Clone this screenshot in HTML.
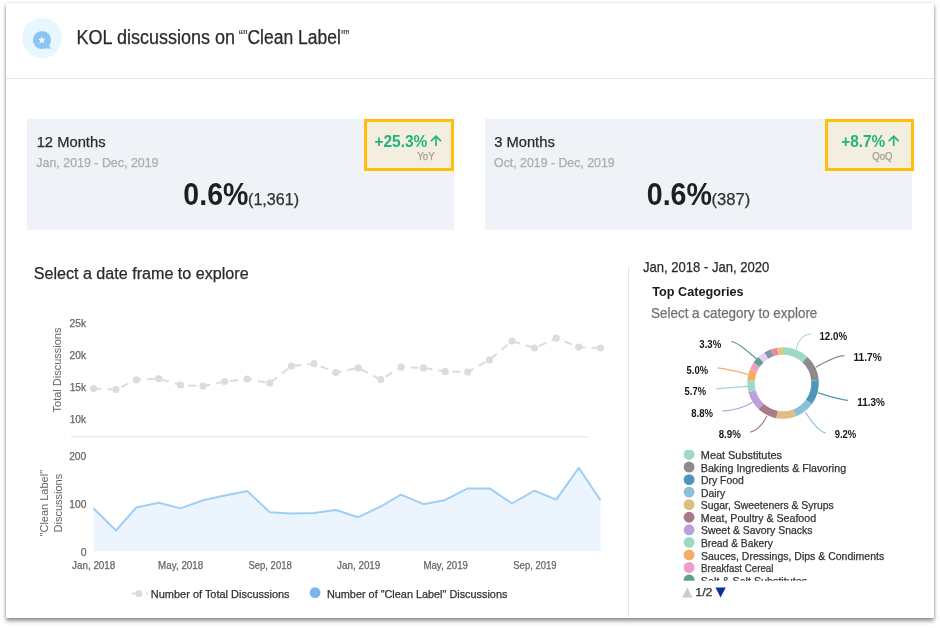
<!DOCTYPE html>
<html><head><meta charset="utf-8"><title>KOL discussions on Clean Label</title><style>
*{margin:0;padding:0;box-sizing:border-box}
html,body{width:940px;height:628px;background:#fff;overflow:hidden}
body{position:relative;font-family:"Liberation Sans",Arial,sans-serif;color:#333}
.card{position:absolute;left:6px;top:3px;width:928px;height:615px;background:#fff;box-shadow:0 3px 4px rgba(0,0,0,.42),0 0 2px rgba(0,0,0,.2)}
.hdrline{position:absolute;left:6px;top:78px;width:928px;height:1px;background:#e6e6e6}
.ico{position:absolute;left:22px;top:18px;width:40px;height:40px;border-radius:50%;background:#e8f7fe}
.kpi{position:absolute;top:119px;height:111px;background:#eff2f6}
.badge{position:absolute;top:119px;height:52px;border:3px solid #ffbf0b;background:#f3eedd}
.vline{position:absolute;left:628px;top:267px;width:1px;height:350px;background:#e3e3e3}
svg{position:absolute;left:0;top:0}
svg text{font-family:"Liberation Sans",Arial,sans-serif}
</style></head><body>
<div class="card"></div>
<div class="hdrline"></div>
<div class="ico"></div>
<div class="kpi" style="left:27px;width:427px"></div>
<div class="kpi" style="left:485px;width:427px"></div>
<div class="badge" style="left:364px;width:90px"></div>
<div class="badge" style="left:825px;width:89px"></div>
<div class="vline"></div>
<svg width="940" height="628" viewBox="0 0 940 628">
  <defs><clipPath id="legclip"><rect x="678" y="449.9" width="240" height="130.8"/></clipPath></defs>
  <!-- header icon -->
  <circle cx="42" cy="40" r="9.1" fill="#8cc5f3"/>
  <path d="M48.3 44 L51.2 48.8 L45.2 48.2 Z" fill="#8cc5f3"/>
  <path d="M0 -3.9 L1.05 -1.35 L3.8 -1.2 L1.65 0.55 L2.35 3.25 L0 1.75 L-2.35 3.25 L-1.65 0.55 L-3.8 -1.2 L-1.05 -1.35 Z" transform="translate(41.8 40.2)" fill="#eef8ff"/>
  <!-- badge arrows -->
  <g stroke="#24b581" stroke-width="1.7" fill="none" stroke-linecap="butt" stroke-linejoin="miter">
    <path d="M436 136.6 V145.9 M431 141.1 L436 136.1 L441 141.1"/>
    <path d="M893.7 136.6 V145.9 M888.7 141.1 L893.7 136.1 L898.7 141.1"/>
  </g>
  <!-- rotated axis titles -->
  <text transform="translate(60.6 370) rotate(-90)" font-size="11" fill="#666" text-anchor="middle">Total Discussions</text>
  <text transform="translate(48 503.2) rotate(-90)" font-size="11" fill="#666" text-anchor="middle">"Clean Label"</text>
  <text transform="translate(61.7 503.1) rotate(-90)" font-size="11" fill="#666" text-anchor="middle">Discussions</text>
  <line x1="71" y1="436.8" x2="588" y2="436.8" stroke="#e0e0e0" stroke-width="1"/>
  <!-- top chart -->
  <path d="M93.50 388.60 L115.98 389.50 L136.29 379.80 L158.78 378.70 L180.54 385.00 L203.02 386.20 L224.78 381.50 L247.27 379.00 L269.75 383.10 L291.51 366.00 L314.00 363.70 L335.76 372.50 L358.24 367.90 L380.73 379.70 L401.04 367.20 L423.52 367.90 L445.28 371.40 L467.77 372.00 L489.53 359.90 L512.01 341.00 L534.50 348.00 L556.26 338.20 L578.74 347.10 L600.50 348.00" stroke="#dcdcdc" stroke-width="2" fill="none" stroke-dasharray="8 6"/>
  <g fill="#dcdcdc"><circle cx="93.50" cy="388.60" r="3.6"/><circle cx="115.98" cy="389.50" r="3.6"/><circle cx="136.29" cy="379.80" r="3.6"/><circle cx="158.78" cy="378.70" r="3.6"/><circle cx="180.54" cy="385.00" r="3.6"/><circle cx="203.02" cy="386.20" r="3.6"/><circle cx="224.78" cy="381.50" r="3.6"/><circle cx="247.27" cy="379.00" r="3.6"/><circle cx="269.75" cy="383.10" r="3.6"/><circle cx="291.51" cy="366.00" r="3.6"/><circle cx="314.00" cy="363.70" r="3.6"/><circle cx="335.76" cy="372.50" r="3.6"/><circle cx="358.24" cy="367.90" r="3.6"/><circle cx="380.73" cy="379.70" r="3.6"/><circle cx="401.04" cy="367.20" r="3.6"/><circle cx="423.52" cy="367.90" r="3.6"/><circle cx="445.28" cy="371.40" r="3.6"/><circle cx="467.77" cy="372.00" r="3.6"/><circle cx="489.53" cy="359.90" r="3.6"/><circle cx="512.01" cy="341.00" r="3.6"/><circle cx="534.50" cy="348.00" r="3.6"/><circle cx="556.26" cy="338.20" r="3.6"/><circle cx="578.74" cy="347.10" r="3.6"/><circle cx="600.50" cy="348.00" r="3.6"/></g>
  <!-- bottom chart -->
  <path d="M93.50 508.30 L115.98 530.50 L136.29 507.50 L158.78 502.80 L180.54 508.40 L203.02 500.20 L224.78 495.40 L247.27 491.00 L269.75 512.30 L291.51 513.50 L314.00 513.00 L335.76 510.00 L358.24 517.20 L380.73 506.50 L401.04 494.60 L423.52 504.20 L445.28 499.90 L467.77 488.40 L489.53 488.40 L512.01 503.50 L534.50 490.70 L556.26 499.60 L578.74 467.90 L600.50 500.20 L600.50 551.2 L93.50 551.2 Z" fill="#ecf5fe"/>
  <path d="M93.50 508.30 L115.98 530.50 L136.29 507.50 L158.78 502.80 L180.54 508.40 L203.02 500.20 L224.78 495.40 L247.27 491.00 L269.75 512.30 L291.51 513.50 L314.00 513.00 L335.76 510.00 L358.24 517.20 L380.73 506.50 L401.04 494.60 L423.52 504.20 L445.28 499.90 L467.77 488.40 L489.53 488.40 L512.01 503.50 L534.50 490.70 L556.26 499.60 L578.74 467.90 L600.50 500.20" stroke="#9fcff5" stroke-width="2" fill="none" stroke-linejoin="round"/>
    <!-- chart legend -->
  <path d="M132 593.4 H148" stroke="#dcdcdc" stroke-width="2" stroke-dasharray="8 6"/>
  <circle cx="138.8" cy="593.4" r="3.5" fill="#dcdcdc"/>
  <circle cx="315.1" cy="592.6" r="5.4" fill="#7cb5ec"/>
  <!-- donut -->
  <path fill="#9dd8c9" d="M783.00 347.20 A35.8 35.8 0 0 1 807.51 356.90 L802.37 362.37 A28.3 28.3 0 0 0 783.00 354.70Z"/><path fill="#8b8b8b" d="M807.51 356.90 A35.8 35.8 0 0 1 818.68 380.07 L811.20 380.68 A28.3 28.3 0 0 0 802.37 362.37Z"/><path fill="#4f95b9" d="M818.68 380.07 A35.8 35.8 0 0 1 811.96 404.04 L805.90 399.63 A28.3 28.3 0 0 0 811.20 380.68Z"/><path fill="#8cc0da" d="M811.96 404.04 A35.8 35.8 0 0 1 795.77 416.44 L793.10 409.44 A28.3 28.3 0 0 0 805.90 399.63Z"/><path fill="#dfbc7f" d="M795.77 416.44 A35.8 35.8 0 0 1 776.17 418.14 L777.60 410.78 A28.3 28.3 0 0 0 793.10 409.44Z"/><path fill="#a97a89" d="M776.17 418.14 A35.8 35.8 0 0 1 758.58 409.18 L763.70 403.70 A28.3 28.3 0 0 0 777.60 410.78Z"/><path fill="#b9a1e0" d="M758.58 409.18 A35.8 35.8 0 0 1 748.42 392.27 L755.66 390.32 A28.3 28.3 0 0 0 763.70 403.70Z"/><path fill="#9dd8c9" d="M748.42 392.27 A35.8 35.8 0 0 1 747.31 380.19 L754.79 380.78 A28.3 28.3 0 0 0 755.66 390.32Z"/><path fill="#f2ad64" d="M747.31 380.19 A35.8 35.8 0 0 1 750.05 369.01 L756.95 371.94 A28.3 28.3 0 0 0 754.79 380.78Z"/><path fill="#ef9ccb" d="M750.05 369.01 A35.8 35.8 0 0 1 753.67 362.47 L759.82 366.77 A28.3 28.3 0 0 0 756.95 371.94Z"/><path fill="#5e9f8d" d="M753.67 362.47 A35.8 35.8 0 0 1 758.36 357.03 L763.52 362.47 A28.3 28.3 0 0 0 759.82 366.77Z"/><path fill="#e3d1f8" d="M758.36 357.03 A35.8 35.8 0 0 1 764.45 352.38 L768.34 358.79 A28.3 28.3 0 0 0 763.52 362.47Z"/><path fill="#8b93ab" d="M764.45 352.38 A35.8 35.8 0 0 1 771.05 349.25 L773.55 356.32 A28.3 28.3 0 0 0 768.34 358.79Z"/><path fill="#e48ba1" d="M771.05 349.25 A35.8 35.8 0 0 1 777.21 347.67 L778.43 355.07 A28.3 28.3 0 0 0 773.55 356.32Z"/><path fill="#e9c572" d="M777.21 347.67 A35.8 35.8 0 0 1 783.00 347.20 L783.00 354.70 A28.3 28.3 0 0 0 778.43 355.07Z"/>
  <path d="M810.7 334.2 C803 334.5 798 341 796.2 349.2" stroke="#9dd8c9" stroke-width="1.2" fill="none"/><path d="M844.3 355.6 C838 355.8 830 359 815.9 367.2" stroke="#8b8b8b" stroke-width="1.2" fill="none"/><path d="M848 400.4 C840 399.5 830 396.5 818 392.9" stroke="#4f95b9" stroke-width="1.2" fill="none"/><path d="M825.6 432.9 C818 431 811 421 805.5 412.2" stroke="#8cc0da" stroke-width="1.2" fill="none"/><path d="M750.3 432.2 C758 430 763 424 766.9 415.9" stroke="#a97a89" stroke-width="1.2" fill="none"/><path d="M722.4 411.2 C735 410 745 407 752.6 402.2" stroke="#b9a1e0" stroke-width="1.2" fill="none"/><path d="M716.3 388.8 C727 388 737 387.2 747.8 386.3" stroke="#9dd8c9" stroke-width="1.2" fill="none"/><path d="M717.6 367.8 C728 369 738 371.5 748.4 374.5" stroke="#f2ad64" stroke-width="1.2" fill="none"/><path d="M731.2 341.5 C738 342.5 746 350 757.3 359.6" stroke="#5e9f8d" stroke-width="1.2" fill="none"/>
  <!-- legend nav -->
  <path d="M682.2 597.4 L687.35 587.4 L692.5 597.4 Z" fill="#cccccc"/>
  <path d="M715.5 587.4 L725.7 587.4 L720.6 597.4 Z" fill="#0a2fa3"/>
  <text id="t1" x="76.59" y="44.00" font-size="19.6" fill="#2a2a2a" textLength="158.40" lengthAdjust="spacingAndGlyphs" stroke="#2a2a2a" stroke-width="0.25">KOL discussions on</text>
<text id="t2" x="238.86" y="43.20" font-size="18.5" fill="#2a2a2a" textLength="8.69" lengthAdjust="spacingAndGlyphs">“"</text>
<text id="t3" x="247.50" y="44.00" font-size="19.6" fill="#2a2a2a" textLength="93.32" lengthAdjust="spacingAndGlyphs" stroke="#2a2a2a" stroke-width="0.25">Clean Label</text>
<text id="t4" x="340.90" y="43.20" font-size="18.5" fill="#2a2a2a" textLength="8.23" lengthAdjust="spacingAndGlyphs">"”</text>
<text id="m12" x="36.68" y="147.00" font-size="14.5" fill="#2b2b2b" textLength="68.84" lengthAdjust="spacingAndGlyphs" stroke="#2b2b2b" stroke-width="0.25">12 Months</text>
<text id="d12" x="36.34" y="166.60" font-size="12.4" fill="#acacac" textLength="122.20" lengthAdjust="spacingAndGlyphs" stroke="#acacac" stroke-width="0.25">Jan, 2019 - Dec, 2019</text>
<text id="v12" x="183.36" y="204.80" font-size="31.3" fill="#1f1f1f" font-weight="700" textLength="64.98" lengthAdjust="spacingAndGlyphs">0.6%</text>
<text id="c12" x="248.04" y="205.30" font-size="16.1" fill="#333333" textLength="51.08" lengthAdjust="spacingAndGlyphs" stroke="#333333" stroke-width="0.25">(1,361)</text>
<text id="p12" x="374.40" y="146.70" font-size="16.1" fill="#21b37d" font-weight="700" textLength="53.03" lengthAdjust="spacingAndGlyphs">+25.3%</text>
<text id="yoy" x="417.16" y="159.80" font-size="10.9" fill="#a39d93" textLength="17.55" lengthAdjust="spacingAndGlyphs" stroke="#a39d93" stroke-width="0.25">YoY</text>
<text id="m3" x="494.17" y="147.00" font-size="14.5" fill="#2b2b2b" textLength="60.63" lengthAdjust="spacingAndGlyphs" stroke="#2b2b2b" stroke-width="0.25">3 Months</text>
<text id="d3" x="494.06" y="166.60" font-size="12.4" fill="#acacac" textLength="120.61" lengthAdjust="spacingAndGlyphs" stroke="#acacac" stroke-width="0.25">Oct, 2019 - Dec, 2019</text>
<text id="v3" x="646.78" y="204.80" font-size="31.3" fill="#1f1f1f" font-weight="700" textLength="65.19" lengthAdjust="spacingAndGlyphs">0.6%</text>
<text id="c3" x="711.58" y="205.30" font-size="16.1" fill="#333333" textLength="38.72" lengthAdjust="spacingAndGlyphs" stroke="#333333" stroke-width="0.25">(387)</text>
<text id="p3" x="841.15" y="146.70" font-size="16.1" fill="#21b37d" font-weight="700" textLength="44.09" lengthAdjust="spacingAndGlyphs">+8.7%</text>
<text id="qoq" x="872.35" y="159.80" font-size="10.9" fill="#a39d93" textLength="20.22" lengthAdjust="spacingAndGlyphs" stroke="#a39d93" stroke-width="0.25">QoQ</text>
<text id="sel" x="33.68" y="278.70" font-size="16" fill="#2b2b2b" textLength="214.93" lengthAdjust="spacingAndGlyphs" stroke="#2b2b2b" stroke-width="0.25">Select a date frame to explore</text>
<text id="y25" x="69.62" y="326.70" font-size="10.4" fill="#666666" textLength="16.49" lengthAdjust="spacingAndGlyphs" stroke="#666666" stroke-width="0.25">25k</text>
<text id="y20" x="69.62" y="358.70" font-size="10.4" fill="#666666" textLength="16.49" lengthAdjust="spacingAndGlyphs" stroke="#666666" stroke-width="0.25">20k</text>
<text id="y15" x="69.66" y="390.80" font-size="10.4" fill="#666666" textLength="16.43" lengthAdjust="spacingAndGlyphs" stroke="#666666" stroke-width="0.25">15k</text>
<text id="y10" x="69.66" y="422.80" font-size="10.4" fill="#666666" textLength="16.43" lengthAdjust="spacingAndGlyphs" stroke="#666666" stroke-width="0.25">10k</text>
<text id="y200" x="69.16" y="459.70" font-size="10.4" fill="#666666" textLength="17.01" lengthAdjust="spacingAndGlyphs" stroke="#666666" stroke-width="0.25">200</text>
<text id="y100" x="69.36" y="507.80" font-size="10.4" fill="#666666" textLength="17.16" lengthAdjust="spacingAndGlyphs" stroke="#666666" stroke-width="0.25">100</text>
<text id="y0" x="80.71" y="555.80" font-size="10.4" fill="#666666" textLength="5.83" lengthAdjust="spacingAndGlyphs" stroke="#666666" stroke-width="0.25">0</text>
<text id="lg1" x="150.85" y="597.60" font-size="10.7" fill="#333333" textLength="138.74" lengthAdjust="spacingAndGlyphs" stroke="#333333" stroke-width="0.25">Number of Total Discussions</text>
<text id="lg2" x="326.92" y="597.60" font-size="10.7" fill="#333333" textLength="180.49" lengthAdjust="spacingAndGlyphs" stroke="#333333" stroke-width="0.25">Number of "Clean Label" Discussions</text>
<text id="jj" x="642.89" y="271.70" font-size="14.2" fill="#2b2b2b" textLength="126.50" lengthAdjust="spacingAndGlyphs" stroke="#2b2b2b" stroke-width="0.25">Jan, 2018 - Jan, 2020</text>
<text id="tc" x="652.20" y="295.60" font-size="12.8" fill="#1a1a1a" font-weight="700" textLength="91.33" lengthAdjust="spacingAndGlyphs">Top Categories</text>
<text id="sc" x="651.12" y="317.90" font-size="14" fill="#717171" textLength="166.20" lengthAdjust="spacingAndGlyphs" stroke="#717171" stroke-width="0.25">Select a category to explore</text>
<text id="nav" x="695.29" y="595.80" font-size="11" fill="#333333" textLength="17.18" lengthAdjust="spacingAndGlyphs" stroke="#333333" stroke-width="0.25">1/2</text>
<text id="l120" x="819.40" y="339.70" font-size="10.6" fill="#161616" font-weight="700" textLength="27.67" lengthAdjust="spacingAndGlyphs" stroke="#fff" stroke-width="1.6" paint-order="stroke" stroke-linejoin="round">12.0%</text>
<text id="l117" x="853.56" y="361.30" font-size="10.6" fill="#161616" font-weight="700" textLength="28.19" lengthAdjust="spacingAndGlyphs" stroke="#fff" stroke-width="1.6" paint-order="stroke" stroke-linejoin="round">11.7%</text>
<text id="l113" x="857.29" y="406.10" font-size="10.6" fill="#161616" font-weight="700" textLength="27.62" lengthAdjust="spacingAndGlyphs" stroke="#fff" stroke-width="1.6" paint-order="stroke" stroke-linejoin="round">11.3%</text>
<text id="l92" x="834.74" y="438.00" font-size="10.6" fill="#161616" font-weight="700" textLength="21.55" lengthAdjust="spacingAndGlyphs" stroke="#fff" stroke-width="1.6" paint-order="stroke" stroke-linejoin="round">9.2%</text>
<text id="l33" x="699.36" y="348.30" font-size="10.6" fill="#161616" font-weight="700" textLength="21.84" lengthAdjust="spacingAndGlyphs" stroke="#fff" stroke-width="1.6" paint-order="stroke" stroke-linejoin="round">3.3%</text>
<text id="l50" x="686.57" y="374.10" font-size="10.6" fill="#161616" font-weight="700" textLength="21.51" lengthAdjust="spacingAndGlyphs" stroke="#fff" stroke-width="1.6" paint-order="stroke" stroke-linejoin="round">5.0%</text>
<text id="l57" x="684.60" y="395.10" font-size="10.6" fill="#161616" font-weight="700" textLength="21.49" lengthAdjust="spacingAndGlyphs" stroke="#fff" stroke-width="1.6" paint-order="stroke" stroke-linejoin="round">5.7%</text>
<text id="l88" x="691.21" y="417.10" font-size="10.6" fill="#161616" font-weight="700" textLength="21.70" lengthAdjust="spacingAndGlyphs" stroke="#fff" stroke-width="1.6" paint-order="stroke" stroke-linejoin="round">8.8%</text>
<text id="l89" x="718.76" y="438.10" font-size="10.6" fill="#161616" font-weight="700" textLength="22.03" lengthAdjust="spacingAndGlyphs" stroke="#fff" stroke-width="1.6" paint-order="stroke" stroke-linejoin="round">8.9%</text>
<text id="x0" x="72.03" y="568.80" font-size="10.3" fill="#666666" textLength="43.31" lengthAdjust="spacingAndGlyphs" stroke="#666666" stroke-width="0.25">Jan, 2018</text>
<text id="x4" x="158.09" y="568.80" font-size="10.3" fill="#666666" textLength="45.21" lengthAdjust="spacingAndGlyphs" stroke="#666666" stroke-width="0.25">May, 2018</text>
<text id="x8" x="248.47" y="568.80" font-size="10.3" fill="#666666" textLength="43.23" lengthAdjust="spacingAndGlyphs" stroke="#666666" stroke-width="0.25">Sep, 2018</text>
<text id="x12" x="337.05" y="568.80" font-size="10.3" fill="#666666" textLength="43.27" lengthAdjust="spacingAndGlyphs" stroke="#666666" stroke-width="0.25">Jan, 2019</text>
<text id="x16" x="423.38" y="568.80" font-size="10.3" fill="#666666" textLength="44.61" lengthAdjust="spacingAndGlyphs" stroke="#666666" stroke-width="0.25">May, 2019</text>
<text id="x20" x="513.30" y="568.80" font-size="10.3" fill="#666666" textLength="43.25" lengthAdjust="spacingAndGlyphs" stroke="#666666" stroke-width="0.25">Sep, 2019</text>
  <g clip-path="url(#legclip)"><circle cx="689.1" cy="454.50" r="5.45" fill="#9dd8c9"/><circle cx="689.1" cy="467.05" r="5.45" fill="#8b8b8b"/><circle cx="689.1" cy="479.60" r="5.45" fill="#4f95b9"/><circle cx="689.1" cy="492.15" r="5.45" fill="#8cc0da"/><circle cx="689.1" cy="504.70" r="5.45" fill="#dfbc7f"/><circle cx="689.1" cy="517.25" r="5.45" fill="#a97a89"/><circle cx="689.1" cy="529.80" r="5.45" fill="#b9a1e0"/><circle cx="689.1" cy="542.35" r="5.45" fill="#9dd8c9"/><circle cx="689.1" cy="554.90" r="5.45" fill="#f2ad64"/><circle cx="689.1" cy="567.45" r="5.45" fill="#ef9ccb"/><circle cx="689.1" cy="580.00" r="5.45" fill="#5e9f8d"/>
  <text id="lg_0" x="700.81" y="459.10" font-size="10.6" fill="#333333" textLength="81.18" lengthAdjust="spacingAndGlyphs" stroke="#333333" stroke-width="0.25">Meat Substitutes</text>
<text id="lg_1" x="700.83" y="471.65" font-size="10.6" fill="#333333" textLength="145.27" lengthAdjust="spacingAndGlyphs" stroke="#333333" stroke-width="0.25">Baking Ingredients &amp; Flavoring</text>
<text id="lg_2" x="700.95" y="484.20" font-size="10.6" fill="#333333" textLength="42.84" lengthAdjust="spacingAndGlyphs" stroke="#333333" stroke-width="0.25">Dry Food</text>
<text id="lg_3" x="700.95" y="496.75" font-size="10.6" fill="#333333" textLength="24.12" lengthAdjust="spacingAndGlyphs" stroke="#333333" stroke-width="0.25">Dairy</text>
<text id="lg_4" x="700.85" y="509.30" font-size="10.6" fill="#333333" textLength="132.80" lengthAdjust="spacingAndGlyphs" stroke="#333333" stroke-width="0.25">Sugar, Sweeteners &amp; Syrups</text>
<text id="lg_5" x="700.80" y="521.85" font-size="10.6" fill="#333333" textLength="115.33" lengthAdjust="spacingAndGlyphs" stroke="#333333" stroke-width="0.25">Meat, Poultry &amp; Seafood</text>
<text id="lg_6" x="701.01" y="534.40" font-size="10.6" fill="#333333" textLength="111.50" lengthAdjust="spacingAndGlyphs" stroke="#333333" stroke-width="0.25">Sweet &amp; Savory Snacks</text>
<text id="lg_7" x="700.88" y="546.95" font-size="10.6" fill="#333333" textLength="71.97" lengthAdjust="spacingAndGlyphs" stroke="#333333" stroke-width="0.25">Bread &amp; Bakery</text>
<text id="lg_8" x="701.00" y="559.50" font-size="10.6" fill="#333333" textLength="183.15" lengthAdjust="spacingAndGlyphs" stroke="#333333" stroke-width="0.25">Sauces, Dressings, Dips &amp; Condiments</text>
<text id="lg_9" x="700.92" y="572.05" font-size="10.6" fill="#333333" textLength="72.51" lengthAdjust="spacingAndGlyphs" stroke="#333333" stroke-width="0.25">Breakfast Cereal</text>
<text id="lg_10" x="700.88" y="584.60" font-size="10.6" fill="#333333" textLength="106.14" lengthAdjust="spacingAndGlyphs" stroke="#333333" stroke-width="0.25">Salt &amp; Salt Substitutes</text></g>
</svg>
</body></html>
